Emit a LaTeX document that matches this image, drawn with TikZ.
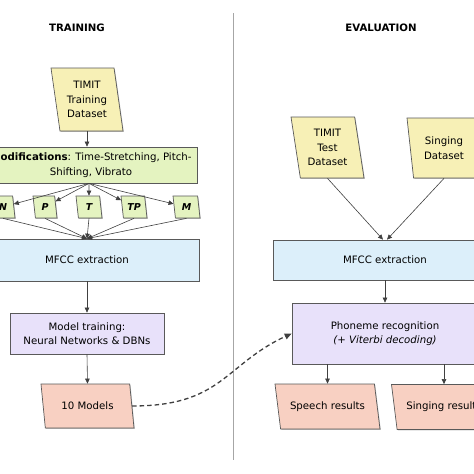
\documentclass[tikz,border=0pt]{standalone}
\usepackage{fontspec}
\setmainfont{DejaVu Sans}
\usetikzlibrary{shapes.geometric,arrows.meta,calc,shadows}
\definecolor{yel}{HTML}{F7F0B6}
\definecolor{grn}{HTML}{E4F3C0}
\definecolor{blu}{HTML}{DCEFFA}
\definecolor{lav}{HTML}{E8E1FA}
\definecolor{sal}{HTML}{F8D0C2}
\begin{document}
\begin{tikzpicture}[x=1pt,y=-1pt,
  font=\fontsize{10.2}{14.5}\selectfont,
  conn/.style={draw=black!75, line width=0.6pt},
  arr/.style={conn, -{Triangle[length=5pt,width=4.5pt]}},
  box/.style={draw=black!65, line width=0.7pt, align=center, inner sep=2pt,
    text=black,
    general shadow={fill=black!25, shadow xshift=0.8pt, shadow yshift=-0.8pt}},
  para/.style 2 args={box, trapezium, trapezium left angle=#1, trapezium right angle=#2,
    trapezium stretches body},
  ttl/.style={font=\fontsize{10.2}{12}\selectfont\bfseries},
  lbl/.style={font=\fontsize{9.5}{12}\selectfont\bfseries\itshape}
]
\useasboundingbox (0,0) rectangle (474,474);
\clip (0,0) rectangle (474,474);

% divider
\coordinate (dtop) at (233,13);
\coordinate (dbot) at (233,460);
\draw[black!35, line width=0.9pt] (dtop) -- (dbot);

% titles
\node[ttl] (ttrain) at (77,28) {TRAINING};
\node[ttl] (teval) at (381,28) {EVALUATION};

% training side
\node[para={102.5}{77.5}, fill=yel, minimum width=72pt, minimum height=63pt] (tdata) at (87,99.5) {TIMIT\\Training\\Dataset};
\node[box, fill=grn, minimum width=212pt, minimum height=36pt] (mods) at (91,165)
  {\textbf{Modifications}: Time-Stretching, Pitch-\\Shifting, Vibrato};
\node[para={102.5}{77.5}, fill=grn, minimum width=24pt, minimum height=22pt, lbl] (mN) at (3,207) {N};
\node[para={102.5}{77.5}, fill=grn, minimum width=24pt, minimum height=22pt, lbl] (mP) at (45,207) {P};
\node[para={102.5}{77.5}, fill=grn, minimum width=26pt, minimum height=22pt, lbl] (mT) at (89,207) {T};
\node[para={102.5}{77.5}, fill=grn, minimum width=26pt, minimum height=22pt, lbl] (mTP) at (134,207) {TP};
\node[para={102.5}{77.5}, fill=grn, minimum width=27pt, minimum height=22pt, lbl] (mM) at (186.5,207) {M};
\node[box, fill=blu, minimum width=224pt, minimum height=42pt] (mfccL) at (87,260) {MFCC extraction};
\node[box, fill=lav, minimum width=154pt, minimum height=41pt] (train) at (87,333.5) {Model training:\\Neural Networks \& DBNs};
\node[para={110}{70}, fill=sal, minimum width=93pt, minimum height=44pt] (models) at (87.5,406) {10 Models};

% evaluation side
\node[para={103}{77}, fill=yel, minimum width=73pt, minimum height=61pt] (ttest) at (327.5,147.5) {TIMIT\\Test\\Dataset};
\node[para={104}{76}, fill=yel, minimum width=74pt, minimum height=60pt] (tsing) at (444,148) {Singing\\Dataset};
\node[box, fill=blu, minimum width=224pt, minimum height=40pt] (mfccR) at (385,260) {MFCC extraction};
\node[box, fill=lav, minimum width=186pt, minimum height=61pt] (phon) at (385,333.5)
  {Phoneme recognition\\{\itshape(+ Viterbi decoding)}};
\node[para={112}{68}, fill=sal, minimum width=105pt, minimum height=45pt] (speech) at (327.5,406.5) {Speech results};
\node[para={112}{68}, fill=sal, minimum width=105pt, minimum height=45pt] (singr) at (444,407) {Singing results};

% connectors training
\draw[arr] (tdata.south) -- (tdata.south |- mods.north);
\foreach \m in {mN,mP,mT,mTP,mM}{
  \draw[arr] (mods.south -| mT.north) -- (\m);
  \draw[arr] (\m.south) -- (mfccL.north);
}
\draw[arr] (mfccL.south) -- (train.north);
\draw[arr] (train.south) -- (models.north);

% connectors evaluation
\draw[arr] (ttest.south) -- ($(mfccR.north)+(-2,0)$);
\draw[arr] (tsing.south) -- ($(mfccR.north)+(2,0)$);
\draw[arr] (mfccR.south) -- (phon.north);
\draw[arr] (phon.south -| speech.north) -- (speech.north);
\draw[arr] (phon.south -| singr.north) -- (singr.north);

% dashed link
\draw[conn, line width=1.3pt, dash pattern=on 4.5pt off 3pt, -{Triangle[length=7pt,width=6pt]}]
  (models.east) .. controls ($(models.east)+(90,0)$) and ($(phon.west)+(-67,31)$) .. (phon.west);
\end{tikzpicture}
\end{document}
